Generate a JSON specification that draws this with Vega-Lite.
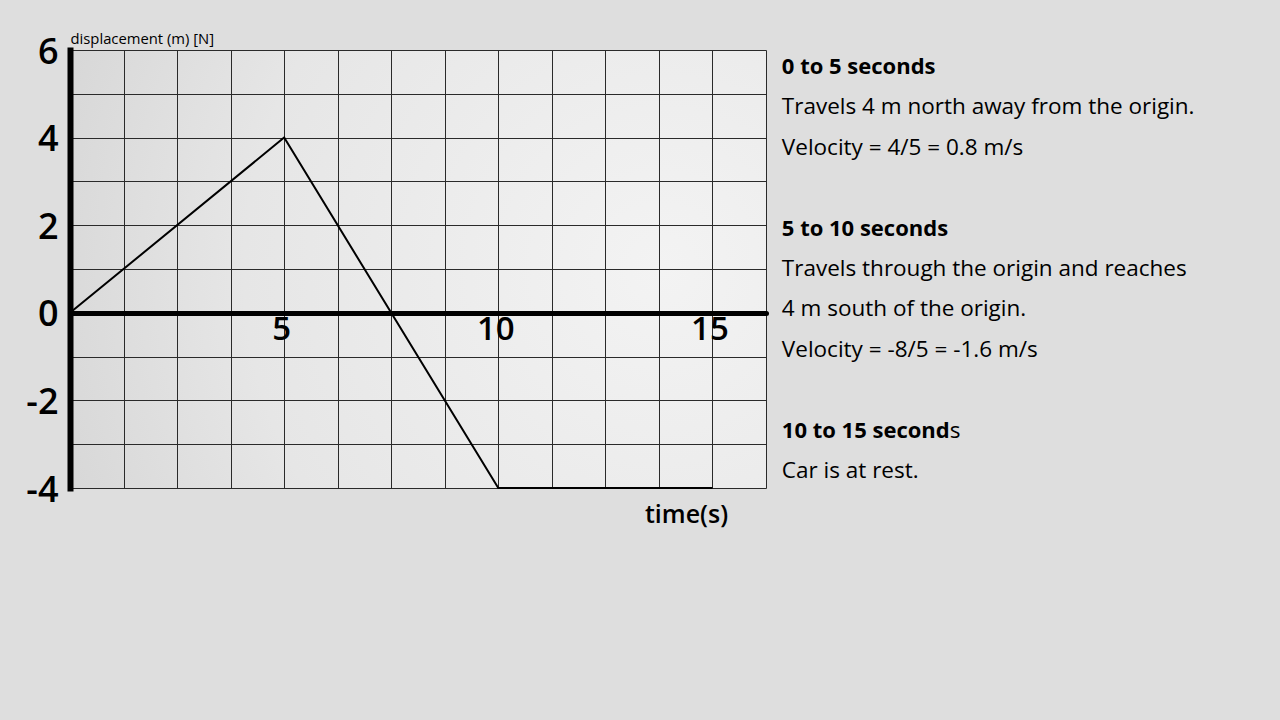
{
  "$schema": "https://vega.github.io/schema/vega-lite/v6.json",
  "width": 696,
  "height": 438,
  "autosize": {"type": "none"},
  "padding": {"left": 70, "top": 50, "right": 514, "bottom": 232},
  "background": "#dedede",
  "config": {
    "view": {
      "stroke": null,
      "fill": {
        "gradient": "radial",
        "x1": 0.85, "y1": 0.5, "r1": 0,
        "x2": 0.85, "y2": 0.5, "r2": 1,
        "stops": [
          {"offset": 0, "color": "#f3f3f3"},
          {"offset": 0.6, "color": "#e6e6e6"},
          {"offset": 1, "color": "#d3d3d3"}
        ]
      }
    },
    "font": "Open Sans"
  },
  "datasets": {
    "motion": [
      {"time": 0, "displacement": 0},
      {"time": 5, "displacement": 4},
      {"time": 10, "displacement": -4},
      {"time": 15, "displacement": -4}
    ],
    "notes": [
      {"line": 0, "kind": "heading", "text": "0 to 5 seconds"},
      {"line": 1, "kind": "body", "text": "Travels 4 m north away from the origin."},
      {"line": 2, "kind": "body", "text": "Velocity = 4/5 = 0.8 m/s"},
      {"line": 4, "kind": "heading", "text": "5 to 10 seconds"},
      {"line": 5, "kind": "body", "text": "Travels through the origin and reaches"},
      {"line": 6, "kind": "body", "text": "4 m south of the origin."},
      {"line": 7, "kind": "body", "text": "Velocity = -8/5 = -1.6 m/s"},
      {"line": 9, "kind": "heading", "text": "10 to 15 second"},
      {"line": 9, "kind": "tail", "text": "s"},
      {"line": 10, "kind": "body", "text": "Car is at rest."}
    ]
  },
  "layer": [
    {
      "data": {"name": "motion"},
      "mark": {"type": "line", "color": "black", "strokeWidth": 2},
      "encoding": {
        "x": {
          "field": "time",
          "type": "quantitative",
          "scale": {"domain": [0, 16.25], "nice": false, "zero": false},
          "axis": {
            "values": [0, 1.25, 2.5, 3.75, 5, 6.25, 7.5, 8.75, 10, 11.25, 12.5, 13.75, 15, 16.25],
            "labelExpr": "datum.value == 5 || datum.value == 10 || datum.value == 15 ? '' + datum.value : ''",
            "offset": -175,
            "domainColor": "black",
            "domainWidth": 5,
            "domainCap": "round",
            "ticks": false,
            "grid": true,
            "gridColor": "#2a2a2a",
            "gridWidth": 1,
            "gridOpacity": 1,
            "labelFont": "Open Sans",
            "labelFontSize": 33,
            "labelFontWeight": 600,
            "labelColor": "black",
            "labelPadding": 0,
            "labelBaseline": "top",
            "labelOverlap": false,
            "labelFlush": false,
            "labelOffset": -3,
            "title": "time(s)",
            "titleFont": "Open Sans",
            "titleFontSize": 25,
            "titleFontWeight": 600,
            "titleColor": "black",
            "titleX": 616,
            "titleY": 201,
            "titleAlign": "center",
            "titleBaseline": "middle"
          }
        },
        "y": {
          "field": "displacement",
          "type": "quantitative",
          "scale": {"domain": [-4, 6], "nice": false, "zero": false},
          "axis": {
            "values": [-4, -3, -2, -1, 0, 1, 2, 3, 4, 5, 6],
            "labelExpr": "datum.value % 2 == 0 ? '' + datum.value : ''",
            "domainColor": "black",
            "domainWidth": 6,
            "domainCap": "square",
            "ticks": false,
            "grid": true,
            "gridColor": "#2a2a2a",
            "gridWidth": 1,
            "gridOpacity": 1,
            "labelFont": "Open Sans",
            "labelFontSize": 36,
            "labelFontWeight": 600,
            "labelColor": "black",
            "labelPadding": 12,
            "labelBaseline": "middle",
            "labelOffset": 2,
            "labelOverlap": false,
            "labelFlush": false,
            "title": "displacement (m) [N]",
            "titleFont": "Open Sans",
            "titleFontSize": 14.8,
            "titleFontWeight": "normal",
            "titleColor": "black",
            "titleAngle": 0,
            "titleX": 0,
            "titleY": -7,
            "titleAlign": "left",
            "titleBaseline": "alphabetic"
          }
        }
      }
    },
    {
      "data": {"name": "notes"},
      "transform": [{"filter": "datum.kind == 'heading'"}],
      "mark": {"type": "text", "align": "left", "baseline": "middle", "font": "Open Sans", "fontSize": 22, "fontWeight": "bold", "color": "black"},
      "encoding": {
        "x": {"datum": 16.62, "type": "quantitative"},
        "y": {"field": "line", "type": "quantitative", "scale": {"domain": [-0.421, 10.421], "reverse": true, "nice": false, "zero": false}, "axis": null},
        "text": {"field": "text"}
      }
    },
    {
      "data": {"name": "notes"},
      "transform": [{"filter": "datum.kind == 'body'"}],
      "mark": {"type": "text", "align": "left", "baseline": "middle", "font": "Open Sans", "fontSize": 22.5, "fontWeight": "normal", "color": "black"},
      "encoding": {
        "x": {"datum": 16.62, "type": "quantitative"},
        "y": {"field": "line", "type": "quantitative", "scale": {"domain": [-0.421, 10.421], "reverse": true, "nice": false, "zero": false}, "axis": null},
        "text": {"field": "text"}
      }
    },
    {
      "data": {"name": "notes"},
      "transform": [{"filter": "datum.kind == 'tail'"}],
      "mark": {"type": "text", "align": "left", "baseline": "middle", "font": "Open Sans", "fontSize": 22.5, "fontWeight": "normal", "color": "black", "dx": 168},
      "encoding": {
        "x": {"datum": 16.62, "type": "quantitative"},
        "y": {"field": "line", "type": "quantitative", "scale": {"domain": [-0.421, 10.421], "reverse": true, "nice": false, "zero": false}, "axis": null},
        "text": {"field": "text"}
      }
    }
  ],
  "resolve": {"scale": {"y": "independent"}}
}
